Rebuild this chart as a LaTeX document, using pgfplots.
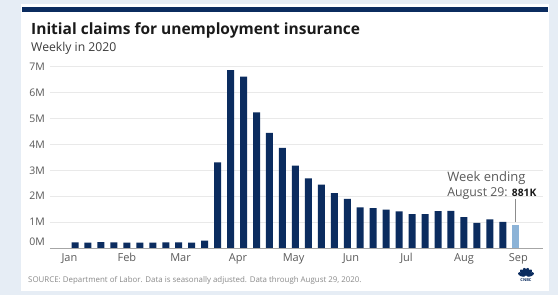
\documentclass[border=0pt]{standalone}
\usepackage{pgfplots}
\pgfplotsset{compat=1.18}
\usepackage{fontspec}
\setmainfont{Open Sans}
\definecolor{navy}{HTML}{0B2C5F}
\definecolor{lightbar}{HTML}{8CB3D7}
\definecolor{outer}{HTML}{E6EDF5}
\definecolor{gridc}{HTML}{E9E9E9}
\definecolor{labc}{HTML}{5A5A5A}
\definecolor{srcc}{HTML}{8A8A8A}
\definecolor{titlec}{HTML}{1A1A1A}
\begin{document}
\begin{tikzpicture}[x=1pt,y=1pt]
\useasboundingbox (0,0) rectangle (558,295);
\fill[outer] (0,0) rectangle (558,295);
\fill[white] (21,4) rectangle (549,291);
\fill[navy] (22,283) rectangle (548,288);
\node[anchor=base west, inner sep=0pt, text=titlec, font=\fontsize{15.5}{17}\selectfont\bfseries] at (31,260) {Initial claims for unemployment insurance};
\node[anchor=base west, inner sep=0pt, text=titlec!85, font=\fontsize{12.2}{14}\selectfont] at (31,243) {Weekly in 2020};
\node[anchor=base west, inner sep=0pt, text=srcc, font=\fontsize{7.9}{9}\selectfont] at (28,12) {SOURCE: Department of Labor. Data is seasonally adjusted. Data through August 29, 2020.};
% CNBC peacock logo
\begin{scope}[shift={(526,19)}]
\foreach \a in {20,48,76,104,132,160}{
  \fill[navy, rotate=\a] (4.5,0) ellipse (4pt and 2pt);
}
\node[inner sep=0pt, text=navy, font=\fontsize{4}{4}\selectfont\bfseries] at (0,-4) {CNBC};
\end{scope}
\begin{axis}[
  at={(50pt,47pt)}, anchor=south west,
  scale only axis, width=493pt, height=185.2pt,
  xmin=-1.93, xmax=36.1, ymin=0, ymax=7.15,
  axis line style={draw=none},
  major tick length=0pt,
  ymajorgrids, major grid style={gridc, line width=0.6pt},
  ytick={1,2,3,4,5,6,7},
  yticklabels={1M,2M,3M,4M,5M,6M,7M},
  extra y ticks={0},
  extra y tick labels={0M},
  extra y tick style={major grid style={black!35, line width=0.8pt}, yticklabel style={yshift=6pt}},
  yticklabel style={anchor=east, inner sep=0pt, xshift=-5pt, text=labc, font=\fontsize{10.5}{12}\selectfont},
  xtick={-0.43,4,8.14,12.57,16.86,21.29,25.57,30,34.2},
  xticklabels={Jan,Feb,Mar,Apr,May,Jun,Jul,Aug,Sep},
  xticklabel style={anchor=north, inner sep=0pt, yshift=-5pt, text=labc, font=\fontsize{11}{12}\selectfont},
  clip=false,
]
\addplot[ybar, bar shift=0pt, bar width=7pt, fill=navy, draw=none] coordinates {
(0,0.216) (1,0.207) (2,0.223) (3,0.217) (4,0.203) (5,0.205) (6,0.211) (7,0.220) (8,0.217) (9,0.211)
(10,0.282) (11,3.307) (12,6.867) (13,6.615) (14,5.237) (15,4.442) (16,3.867) (17,3.176) (18,2.687) (19,2.446)
(20,2.123) (21,1.897) (22,1.566) (23,1.540) (24,1.482) (25,1.413) (26,1.310) (27,1.307) (28,1.422) (29,1.435)
(30,1.191) (31,0.971) (32,1.104) (33,1.011)
};
\addplot[ybar, bar shift=0pt, bar width=7pt, fill=lightbar, draw=none] coordinates {(34,0.881)};
\draw[black!45, line width=0.7pt] (axis cs:34,1.0) -- (axis cs:34,1.88);
\node[anchor=base west, inner sep=0pt, text=labc, font=\fontsize{13}{14}\selectfont] at (axis cs:28.7,2.55) {Week ending};
\node[anchor=base west, inner sep=0pt, text=labc, font=\fontsize{12.3}{14}\selectfont] at (axis cs:28.7,2.0) {August 29: {\fontsize{10.3}{12}\selectfont\bfseries\color{titlec}881K}};
\end{axis}
\end{tikzpicture}
\end{document}
